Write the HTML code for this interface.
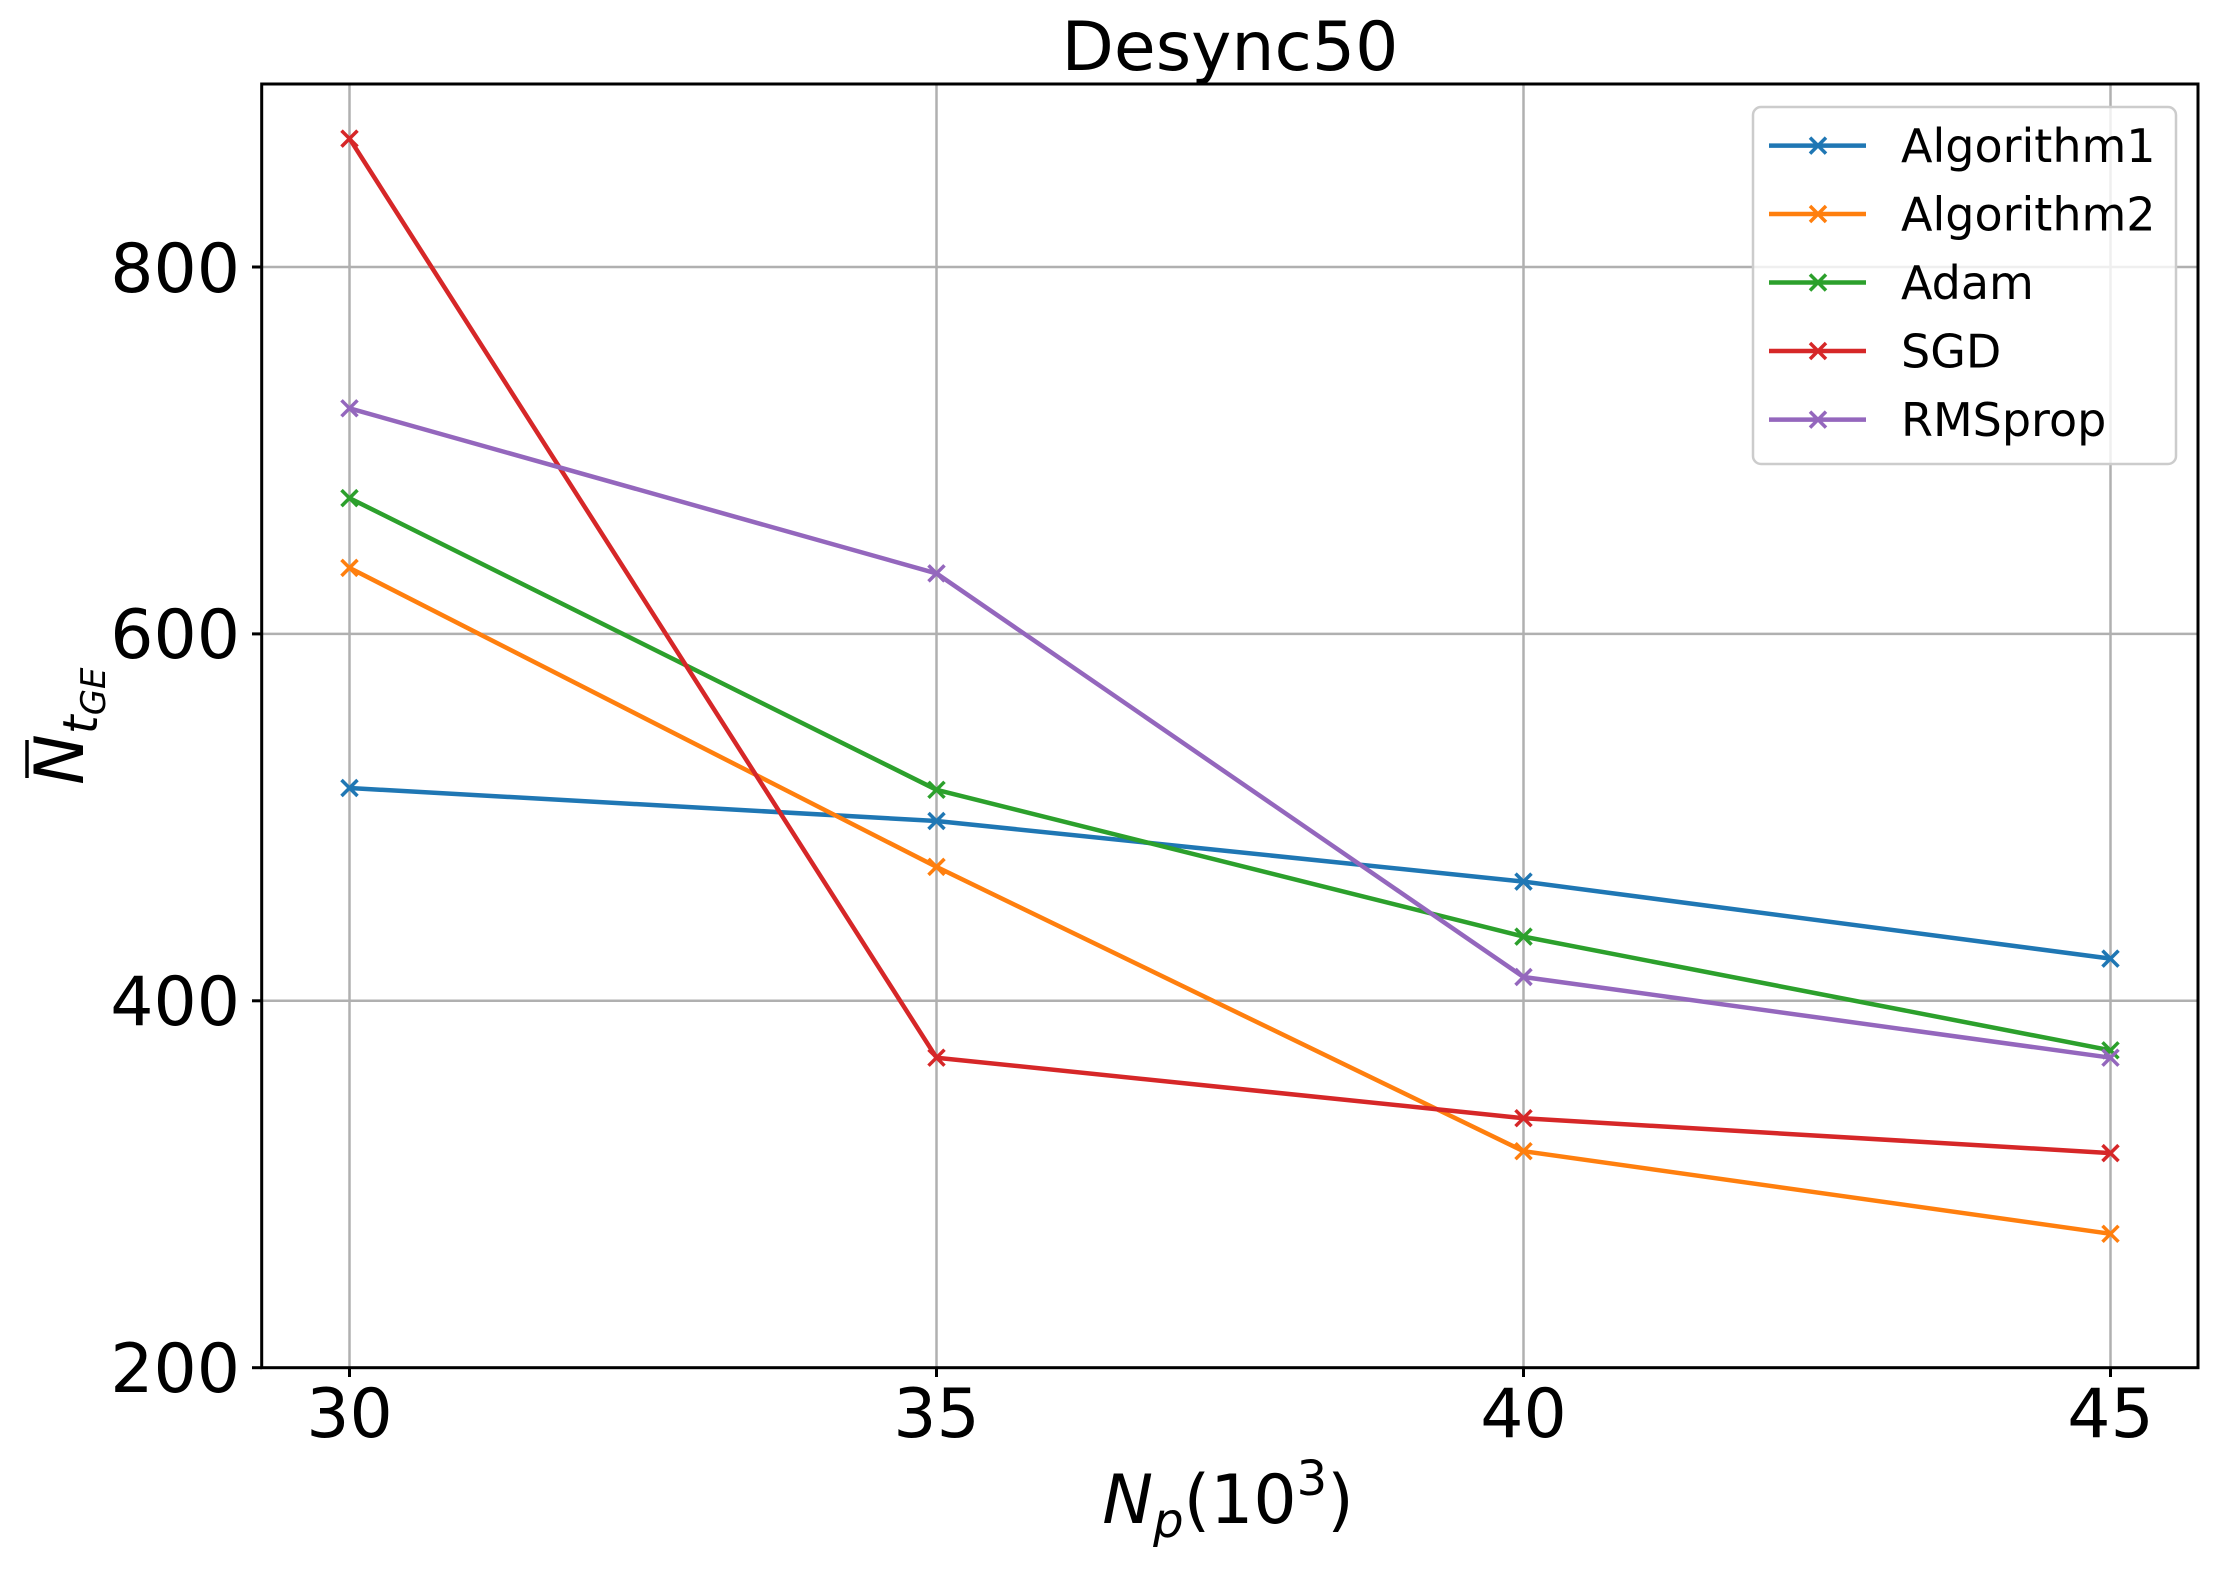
<!DOCTYPE html>
<html><head><meta charset="utf-8"><style>html,body{margin:0;padding:0;background:#fff}</style></head>
<body>
<svg width="2226" height="1568" xmlns="http://www.w3.org/2000/svg" font-family="'DejaVu Sans','Liberation Sans',sans-serif">
<rect width="2226" height="1568" fill="#fff"/>
<g stroke="#b0b0b0" stroke-width="2.5">
<line x1="349.5" y1="84" x2="349.5" y2="1368"/>
<line x1="936.5" y1="84" x2="936.5" y2="1368"/>
<line x1="1523.5" y1="84" x2="1523.5" y2="1368"/>
<line x1="2110.5" y1="84" x2="2110.5" y2="1368"/>
<line x1="262" y1="1000.8" x2="2198" y2="1000.8"/>
<line x1="262" y1="633.9" x2="2198" y2="633.9"/>
<line x1="262" y1="267" x2="2198" y2="267"/>
</g>
<defs>
<g id="m"><path d="M-8,-8L8,8M-8,8L8,-8" stroke-width="3.5"/></g>
</defs>
<g fill="none" stroke-width="4.5" stroke-linejoin="round">
<g stroke="#1f77b4"><polyline points="349.5,788 936.5,821 1523.5,881.6 2110.5,958.6"/>
<use href="#m" x="349.5" y="788"/><use href="#m" x="936.5" y="821"/><use href="#m" x="1523.5" y="881.6"/><use href="#m" x="2110.5" y="958.6"/></g>
<g stroke="#ff7f0e"><polyline points="349.5,567.9 936.5,866.9 1523.5,1151.2 2110.5,1233.8"/>
<use href="#m" x="349.5" y="567.9"/><use href="#m" x="936.5" y="866.9"/><use href="#m" x="1523.5" y="1151.2"/><use href="#m" x="2110.5" y="1233.8"/></g>
<g stroke="#2ca02c"><polyline points="349.5,498.1 936.5,789.8 1523.5,936.6 2110.5,1050.3"/>
<use href="#m" x="349.5" y="498.1"/><use href="#m" x="936.5" y="789.8"/><use href="#m" x="1523.5" y="936.6"/><use href="#m" x="2110.5" y="1050.3"/></g>
<g stroke="#d62728"><polyline points="349.5,138.6 936.5,1057.7 1523.5,1118.2 2110.5,1153.1"/>
<use href="#m" x="349.5" y="138.6"/><use href="#m" x="936.5" y="1057.7"/><use href="#m" x="1523.5" y="1118.2"/><use href="#m" x="2110.5" y="1153.1"/></g>
<g stroke="#9467bd"><polyline points="349.5,408.3 936.5,573.4 1523.5,977 2110.5,1057.7"/>
<use href="#m" x="349.5" y="408.3"/><use href="#m" x="936.5" y="573.4"/><use href="#m" x="1523.5" y="977"/><use href="#m" x="2110.5" y="1057.7"/></g>
</g>
<rect x="261.7" y="84" width="1936.3" height="1283.7" fill="none" stroke="#000" stroke-width="3"/>
<g stroke="#000" stroke-width="3">
<line x1="349.5" y1="1368" x2="349.5" y2="1377"/><line x1="936.5" y1="1368" x2="936.5" y2="1377"/>
<line x1="1523.5" y1="1368" x2="1523.5" y2="1377"/><line x1="2110.5" y1="1368" x2="2110.5" y2="1377"/>
<line x1="252" y1="1367.7" x2="262" y2="1367.7"/><line x1="252" y1="1000.8" x2="262" y2="1000.8"/>
<line x1="252" y1="633.9" x2="262" y2="633.9"/><line x1="252" y1="267" x2="262" y2="267"/>
</g>
<g font-size="68" fill="#000">
<g text-anchor="middle">
<text x="349.5" y="1437">30</text><text x="936.5" y="1437">35</text><text x="1523.5" y="1437">40</text><text x="2110.5" y="1437">45</text>
</g>
<g text-anchor="end">
<text x="240" y="1392">200</text><text x="240" y="1025">400</text><text x="240" y="658">600</text><text x="240" y="292">800</text>
</g>
<text x="1230" y="70" text-anchor="middle">Desync50</text>
<text x="1228" y="1523" text-anchor="middle"><tspan font-style="italic">N</tspan><tspan font-style="italic" font-size="48" dy="14">p</tspan><tspan dy="-14">(10</tspan><tspan font-size="48" dy="-28">3</tspan><tspan dy="28">)</tspan></text>
<text transform="translate(83,785) rotate(-90)"><tspan font-style="italic">N</tspan><tspan font-style="italic" font-size="48" dy="14">t</tspan><tspan font-style="italic" font-size="34" dy="8">GE</tspan></text>
</g>
<line x1="27" y1="740" x2="27" y2="778" stroke="#000" stroke-width="3.5"/>
<rect x="1753" y="107" width="423" height="357" rx="8" fill="#fff" fill-opacity="0.8" stroke="#ccc" stroke-width="2.5"/>
<g stroke-width="4.5">
<g stroke="#1f77b4"><line x1="1769" y1="145.6" x2="1866" y2="145.6"/><use href="#m" x="1818" y="145.6"/></g>
<g stroke="#ff7f0e"><line x1="1769" y1="214" x2="1866" y2="214"/><use href="#m" x="1818" y="214"/></g>
<g stroke="#2ca02c"><line x1="1769" y1="282.5" x2="1866" y2="282.5"/><use href="#m" x="1818" y="282.5"/></g>
<g stroke="#d62728"><line x1="1769" y1="351" x2="1866" y2="351"/><use href="#m" x="1818" y="351"/></g>
<g stroke="#9467bd"><line x1="1769" y1="419.6" x2="1866" y2="419.6"/><use href="#m" x="1818" y="419.6"/></g>
</g>
<g font-size="46" fill="#000">
<text x="1901" y="162">Algorithm1</text>
<text x="1901" y="230.5">Algorithm2</text>
<text x="1901" y="299">Adam</text>
<text x="1901" y="367.5">SGD</text>
<text x="1901" y="436">RMSprop</text>
</g>
</svg>
</body></html>
